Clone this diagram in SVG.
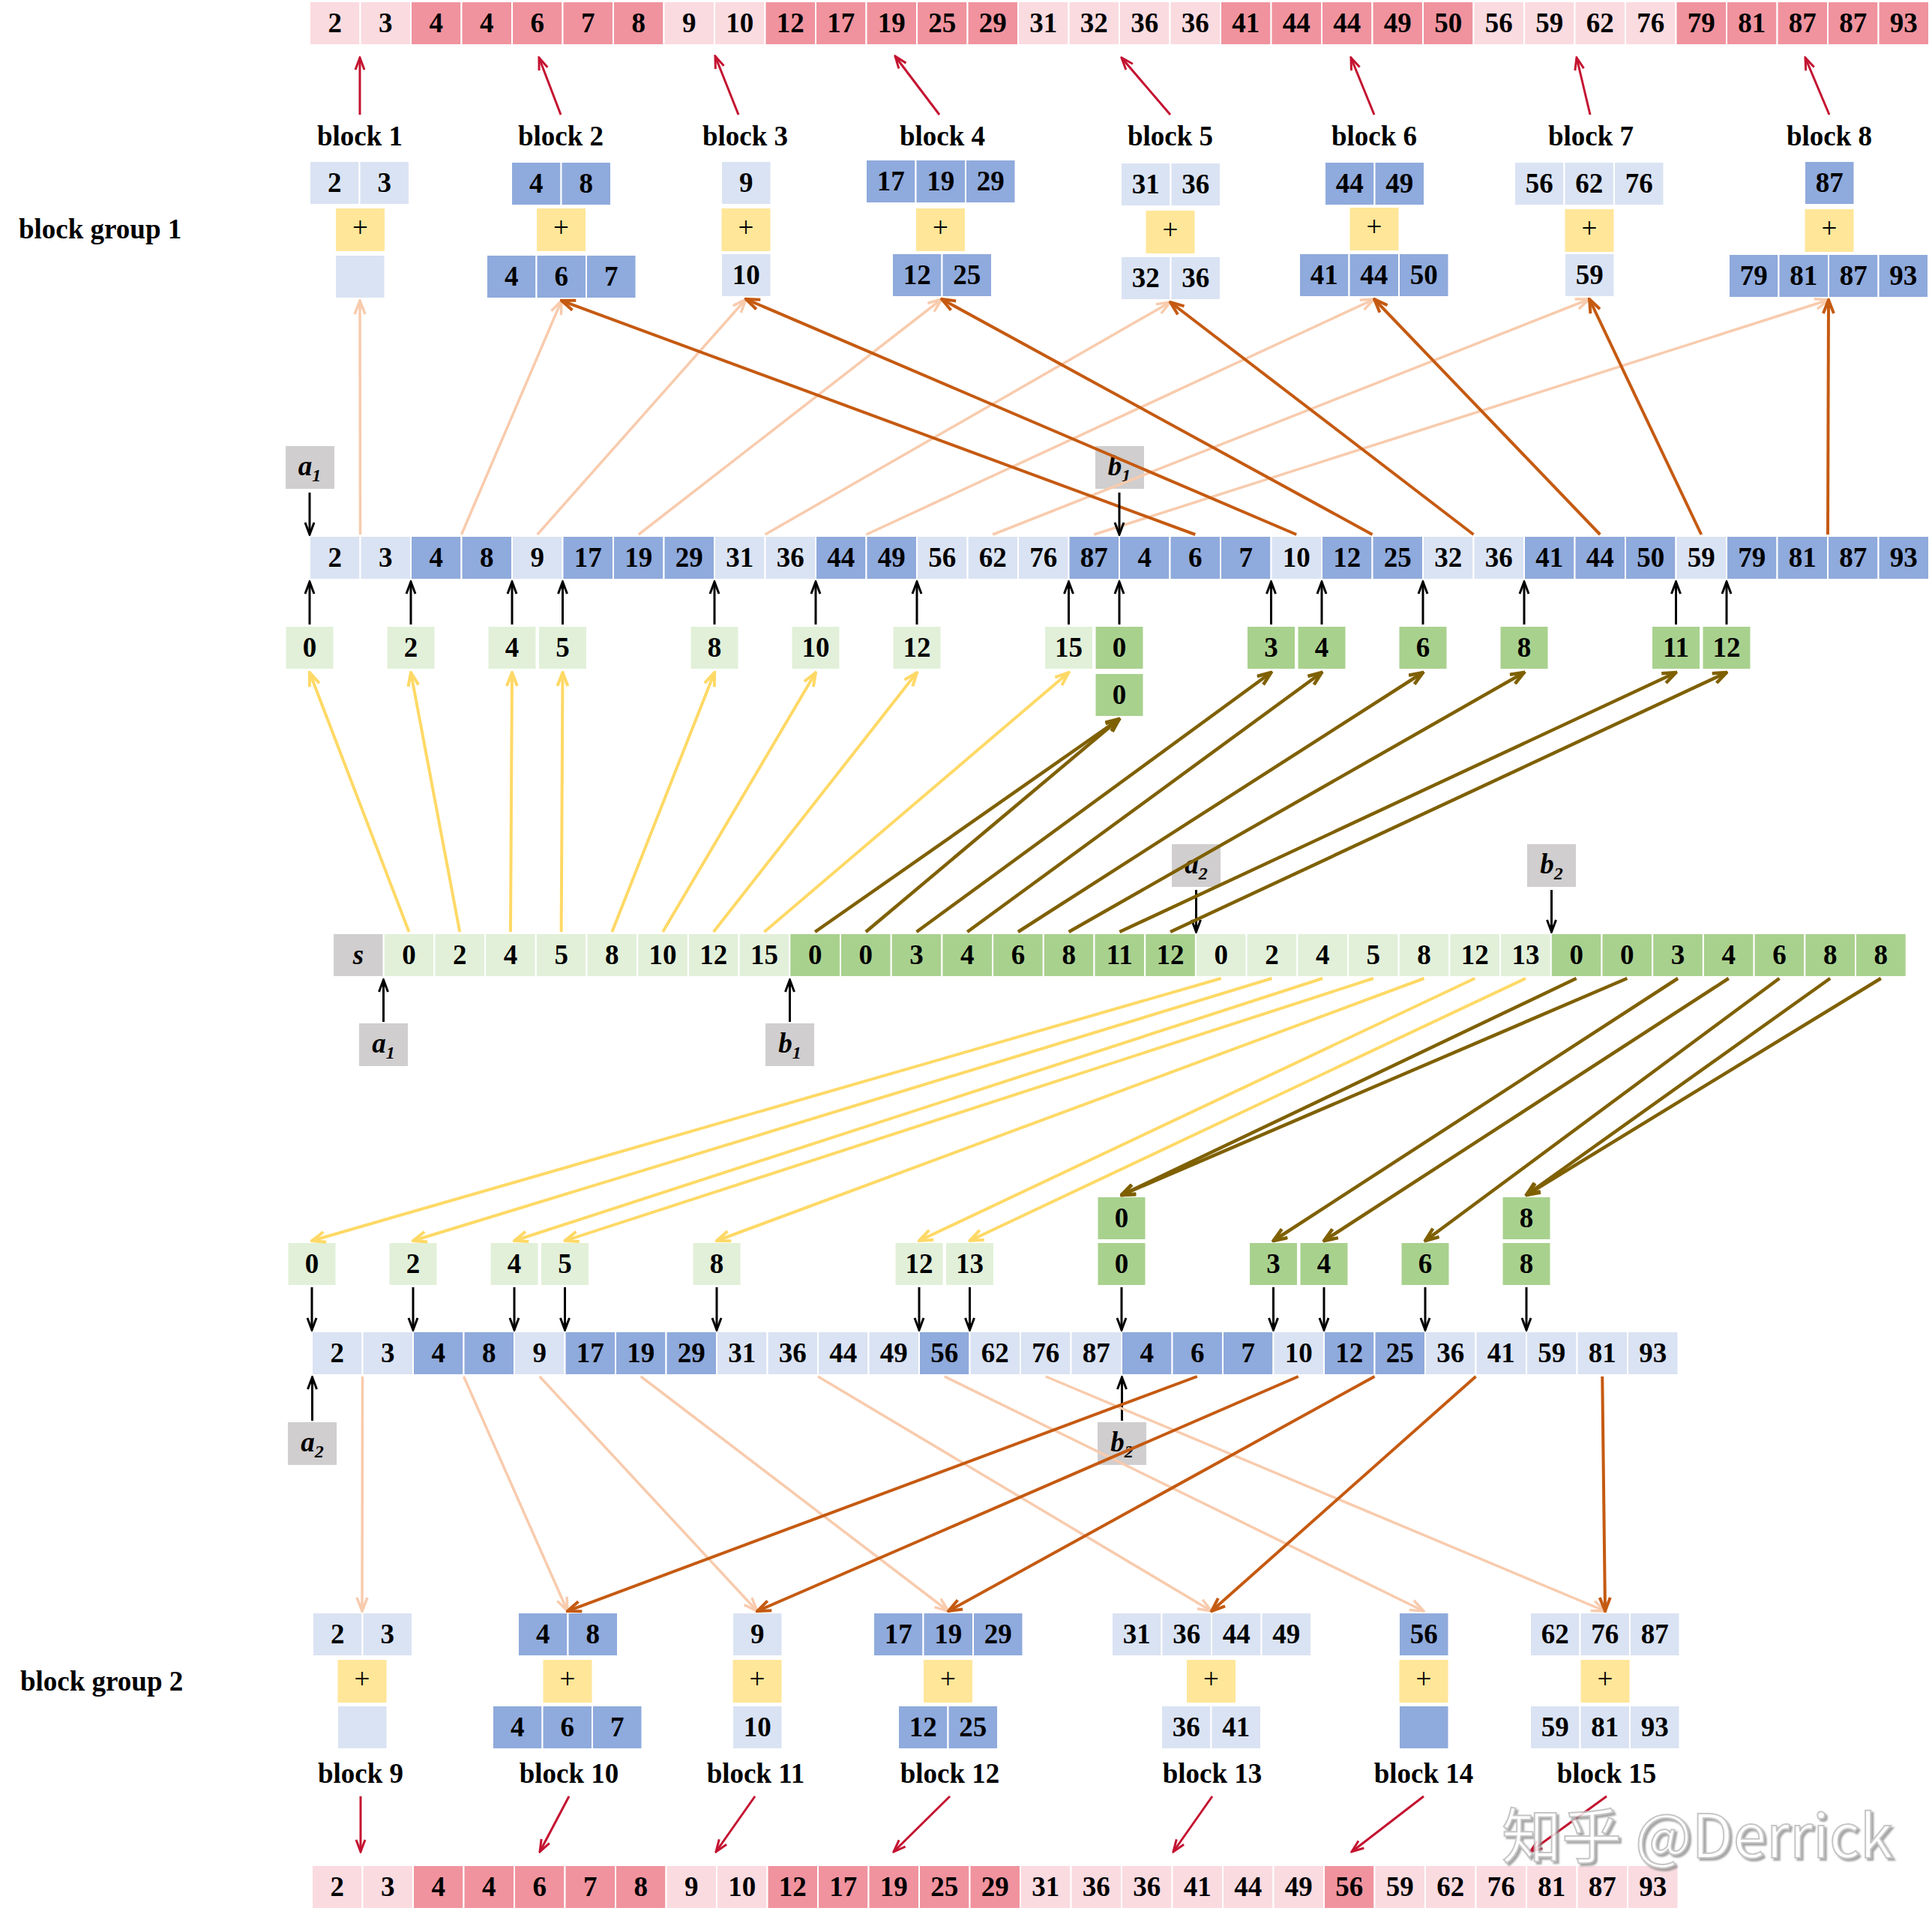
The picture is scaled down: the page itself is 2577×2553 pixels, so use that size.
<svg xmlns="http://www.w3.org/2000/svg" width="2577" height="2553" viewBox="0 0 2577 2553">
<defs>
<style>
.c{stroke:#fff;stroke-width:2}
.pl{fill:#FADBE0}.pd{fill:#F0939E}.L{fill:#DAE3F3}.D{fill:#8FAADC}.gl{fill:#E2F0D9}.gd{fill:#A9D18E}.yl{fill:#FFE699}.gr{fill:#D0CECE}
text{font-family:"Liberation Serif","Times New Roman",serif;font-weight:bold;font-size:37px;text-anchor:middle;fill:#000}
text.plus{font-weight:normal}
text.it{font-style:italic}
text.left{text-anchor:start}
.k{stroke:#000;stroke-width:3;fill:none;marker-end:url(#mk)}
.r{stroke:#C41230;stroke-width:3;fill:none;marker-end:url(#mr)}
.y{stroke:#FFD966;stroke-width:4;fill:none;marker-end:url(#my)}
.o{stroke:#7F6000;stroke-width:4.5;fill:none;marker-end:url(#mo)}
.lo{stroke:#F8CBAD;stroke-width:3.5;fill:none;marker-end:url(#mlo)}
.do{stroke:#C55A11;stroke-width:4;fill:none;marker-end:url(#mdo)}
</style>
<filter id="wm" x="-5%" y="-20%" width="110%" height="140%"><feDropShadow dx="3" dy="3" stdDeviation="1" flood-color="#8A8A8A" flood-opacity="0.9"/></filter>
<marker id="mk" viewBox="0 0 20 16" refX="18" refY="8" markerWidth="20" markerHeight="16" markerUnits="userSpaceOnUse" orient="auto"><path d="M2,2 L18,8 L2,14" fill="none" stroke="#000" stroke-width="3"/></marker>
<marker id="mr" viewBox="0 0 20 16" refX="18" refY="8" markerWidth="20" markerHeight="16" markerUnits="userSpaceOnUse" orient="auto"><path d="M2,2 L18,8 L2,14" fill="none" stroke="#C41230" stroke-width="3"/></marker>
<marker id="my" viewBox="0 0 22 18" refX="20" refY="9" markerWidth="22" markerHeight="18" markerUnits="userSpaceOnUse" orient="auto"><path d="M2,2 L20,9 L2,16" fill="none" stroke="#FFD966" stroke-width="4"/></marker>
<marker id="mo" viewBox="0 0 22 18" refX="20" refY="9" markerWidth="22" markerHeight="18" markerUnits="userSpaceOnUse" orient="auto"><path d="M2,2 L20,9 L2,16" fill="none" stroke="#7F6000" stroke-width="4.5"/></marker>
<marker id="mlo" viewBox="0 0 22 18" refX="20" refY="9" markerWidth="22" markerHeight="18" markerUnits="userSpaceOnUse" orient="auto"><path d="M2,2 L20,9 L2,16" fill="none" stroke="#F8CBAD" stroke-width="3.5"/></marker>
<marker id="mdo" viewBox="0 0 22 18" refX="20" refY="9" markerWidth="22" markerHeight="18" markerUnits="userSpaceOnUse" orient="auto"><path d="M2,2 L20,9 L2,16" fill="none" stroke="#C55A11" stroke-width="4"/></marker>
</defs>
<rect width="2577" height="2553" fill="#fff"/>

<g id="row-top" transform="translate(413,2)">
<rect class="c pl" x="0" width="67.5" height="58"/><text x="33.75" y="41">2</text>
<rect class="c pl" x="67.5" width="67.5" height="58"/><text x="101.25" y="41">3</text>
<rect class="c pd" x="135" width="67.5" height="58"/><text x="168.75" y="41">4</text>
<rect class="c pd" x="202.5" width="67.5" height="58"/><text x="236.25" y="41">4</text>
<rect class="c pd" x="270" width="67.5" height="58"/><text x="303.75" y="41">6</text>
<rect class="c pd" x="337.5" width="67.5" height="58"/><text x="371.25" y="41">7</text>
<rect class="c pd" x="405" width="67.5" height="58"/><text x="438.75" y="41">8</text>
<rect class="c pl" x="472.5" width="67.5" height="58"/><text x="506.25" y="41">9</text>
<rect class="c pl" x="540" width="67.5" height="58"/><text x="573.75" y="41">10</text>
<rect class="c pd" x="607.5" width="67.5" height="58"/><text x="641.25" y="41">12</text>
<rect class="c pd" x="675" width="67.5" height="58"/><text x="708.75" y="41">17</text>
<rect class="c pd" x="742.5" width="67.5" height="58"/><text x="776.25" y="41">19</text>
<rect class="c pd" x="810" width="67.5" height="58"/><text x="843.75" y="41">25</text>
<rect class="c pd" x="877.5" width="67.5" height="58"/><text x="911.25" y="41">29</text>
<rect class="c pl" x="945" width="67.5" height="58"/><text x="978.75" y="41">31</text>
<rect class="c pl" x="1012.5" width="67.5" height="58"/><text x="1046.25" y="41">32</text>
<rect class="c pl" x="1080" width="67.5" height="58"/><text x="1113.75" y="41">36</text>
<rect class="c pl" x="1147.5" width="67.5" height="58"/><text x="1181.25" y="41">36</text>
<rect class="c pd" x="1215" width="67.5" height="58"/><text x="1248.75" y="41">41</text>
<rect class="c pd" x="1282.5" width="67.5" height="58"/><text x="1316.25" y="41">44</text>
<rect class="c pd" x="1350" width="67.5" height="58"/><text x="1383.75" y="41">44</text>
<rect class="c pd" x="1417.5" width="67.5" height="58"/><text x="1451.25" y="41">49</text>
<rect class="c pd" x="1485" width="67.5" height="58"/><text x="1518.75" y="41">50</text>
<rect class="c pl" x="1552.5" width="67.5" height="58"/><text x="1586.25" y="41">56</text>
<rect class="c pl" x="1620" width="67.5" height="58"/><text x="1653.75" y="41">59</text>
<rect class="c pl" x="1687.5" width="67.5" height="58"/><text x="1721.25" y="41">62</text>
<rect class="c pl" x="1755" width="67.5" height="58"/><text x="1788.75" y="41">76</text>
<rect class="c pd" x="1822.5" width="67.5" height="58"/><text x="1856.25" y="41">79</text>
<rect class="c pd" x="1890" width="67.5" height="58"/><text x="1923.75" y="41">81</text>
<rect class="c pd" x="1957.5" width="67.5" height="58"/><text x="1991.25" y="41">87</text>
<rect class="c pd" x="2025" width="67.5" height="58"/><text x="2058.75" y="41">87</text>
<rect class="c pd" x="2092.5" width="67.5" height="58"/><text x="2126.25" y="41">93</text>
</g>

<g id="labels-group1">
<text x="480" y="194">block 1</text>
<text x="748" y="194">block 2</text>
<text x="994" y="194">block 3</text>
<text x="1257" y="194">block 4</text>
<text x="1561" y="194">block 5</text>
<text x="1833" y="194">block 6</text>
<text x="2122" y="194">block 7</text>
<text x="2440" y="194">block 8</text>
<text class="left" x="25" y="318">block group 1</text>
<text class="left" x="27" y="2255">block group 2</text>
</g>

<g id="block1">
<rect class="c L" x="413" y="215" width="66.5" height="58"/><text x="446.25" y="256">2</text>
<rect class="c L" x="479.5" y="215" width="66.5" height="58"/><text x="512.75" y="256">3</text>
<rect class="yl" x="448" y="278" width="65" height="57"/><text class="plus" x="480.5" y="316">+</text>
<rect class="c L" x="447" y="340" width="66.5" height="58"/>
</g>
<g id="block2">
<rect class="c D" x="682" y="216" width="66.5" height="58"/><text x="715.25" y="257">4</text>
<rect class="c D" x="748.5" y="216" width="66.5" height="58"/><text x="781.75" y="257">8</text>
<rect class="yl" x="716" y="278" width="65" height="57"/><text class="plus" x="748.5" y="316">+</text>
<rect class="c D" x="649" y="340" width="66.5" height="58"/><text x="682.25" y="381">4</text>
<rect class="c D" x="715.5" y="340" width="66.5" height="58"/><text x="748.75" y="381">6</text>
<rect class="c D" x="782" y="340" width="66.5" height="58"/><text x="815.25" y="381">7</text>
</g>
<g id="block3">
<rect class="c L" x="962" y="215" width="66.5" height="58"/><text x="995.25" y="256">9</text>
<rect class="yl" x="962.5" y="278" width="65" height="57"/><text class="plus" x="995" y="316">+</text>
<rect class="c L" x="962" y="338" width="66.5" height="58"/><text x="995.25" y="379">10</text>
</g>
<g id="block4">
<rect class="c D" x="1155" y="213" width="66.5" height="58"/><text x="1188.25" y="254">17</text>
<rect class="c D" x="1221.5" y="213" width="66.5" height="58"/><text x="1254.75" y="254">19</text>
<rect class="c D" x="1288" y="213" width="66.5" height="58"/><text x="1321.25" y="254">29</text>
<rect class="yl" x="1222" y="278" width="65" height="57"/><text class="plus" x="1254.5" y="316">+</text>
<rect class="c D" x="1190" y="338" width="66.5" height="58"/><text x="1223.25" y="379">12</text>
<rect class="c D" x="1256.5" y="338" width="66.5" height="58"/><text x="1289.75" y="379">25</text>
</g>
<g id="block5">
<rect class="c L" x="1495" y="217" width="66.5" height="58"/><text x="1528.25" y="258">31</text>
<rect class="c L" x="1561.5" y="217" width="66.5" height="58"/><text x="1594.75" y="258">36</text>
<rect class="yl" x="1528.5" y="281" width="65" height="57"/><text class="plus" x="1561" y="319">+</text>
<rect class="c L" x="1495" y="342" width="66.5" height="58"/><text x="1528.25" y="383">32</text>
<rect class="c L" x="1561.5" y="342" width="66.5" height="58"/><text x="1594.75" y="383">36</text>
</g>
<g id="block6">
<rect class="c D" x="1767" y="216" width="66.5" height="58"/><text x="1800.25" y="257">44</text>
<rect class="c D" x="1833.5" y="216" width="66.5" height="58"/><text x="1866.75" y="257">49</text>
<rect class="yl" x="1800.5" y="277" width="65" height="57"/><text class="plus" x="1833" y="315">+</text>
<rect class="c D" x="1733" y="338" width="66.5" height="58"/><text x="1766.25" y="379">41</text>
<rect class="c D" x="1799.5" y="338" width="66.5" height="58"/><text x="1832.75" y="379">44</text>
<rect class="c D" x="1866" y="338" width="66.5" height="58"/><text x="1899.25" y="379">50</text>
</g>
<g id="block7">
<rect class="c L" x="2020" y="216" width="66.5" height="58"/><text x="2053.25" y="257">56</text>
<rect class="c L" x="2086.5" y="216" width="66.5" height="58"/><text x="2119.75" y="257">62</text>
<rect class="c L" x="2153" y="216" width="66.5" height="58"/><text x="2186.25" y="257">76</text>
<rect class="yl" x="2087.5" y="279" width="65" height="57"/><text class="plus" x="2120" y="317">+</text>
<rect class="c L" x="2087" y="338" width="66.5" height="58"/><text x="2120.25" y="379">59</text>
</g>
<g id="block8">
<rect class="c D" x="2407" y="215" width="66.5" height="58"/><text x="2440.25" y="256">87</text>
<rect class="yl" x="2407.5" y="279" width="65" height="57"/><text class="plus" x="2440" y="317">+</text>
<rect class="c D" x="2306" y="339" width="66.5" height="58"/><text x="2339.25" y="380">79</text>
<rect class="c D" x="2372.5" y="339" width="66.5" height="58"/><text x="2405.75" y="380">81</text>
<rect class="c D" x="2439" y="339" width="66.5" height="58"/><text x="2472.25" y="380">87</text>
<rect class="c D" x="2505.5" y="339" width="66.5" height="58"/><text x="2538.75" y="380">93</text>
</g>

<g id="pointers1">
<rect class="gr" x="381" y="595" width="65" height="57"/><text class="it" x="413" y="634">a<tspan font-size="24" dy="8">1</tspan></text>
<rect class="gr" x="1461" y="595" width="65" height="57"/><text class="it" x="1493" y="634">b<tspan font-size="24" dy="8">1</tspan></text>
</g>

<g id="row1" transform="translate(413,715)">
<rect class="c L" x="0" width="67.5" height="58"/><text x="33.75" y="41">2</text>
<rect class="c L" x="67.5" width="67.5" height="58"/><text x="101.25" y="41">3</text>
<rect class="c D" x="135" width="67.5" height="58"/><text x="168.75" y="41">4</text>
<rect class="c D" x="202.5" width="67.5" height="58"/><text x="236.25" y="41">8</text>
<rect class="c L" x="270" width="67.5" height="58"/><text x="303.75" y="41">9</text>
<rect class="c D" x="337.5" width="67.5" height="58"/><text x="371.25" y="41">17</text>
<rect class="c D" x="405" width="67.5" height="58"/><text x="438.75" y="41">19</text>
<rect class="c D" x="472.5" width="67.5" height="58"/><text x="506.25" y="41">29</text>
<rect class="c L" x="540" width="67.5" height="58"/><text x="573.75" y="41">31</text>
<rect class="c L" x="607.5" width="67.5" height="58"/><text x="641.25" y="41">36</text>
<rect class="c D" x="675" width="67.5" height="58"/><text x="708.75" y="41">44</text>
<rect class="c D" x="742.5" width="67.5" height="58"/><text x="776.25" y="41">49</text>
<rect class="c L" x="810" width="67.5" height="58"/><text x="843.75" y="41">56</text>
<rect class="c L" x="877.5" width="67.5" height="58"/><text x="911.25" y="41">62</text>
<rect class="c L" x="945" width="67.5" height="58"/><text x="978.75" y="41">76</text>
<rect class="c D" x="1012.5" width="67.5" height="58"/><text x="1046.25" y="41">87</text>
<rect class="c D" x="1080" width="67.5" height="58"/><text x="1113.75" y="41">4</text>
<rect class="c D" x="1147.5" width="67.5" height="58"/><text x="1181.25" y="41">6</text>
<rect class="c D" x="1215" width="67.5" height="58"/><text x="1248.75" y="41">7</text>
<rect class="c L" x="1282.5" width="67.5" height="58"/><text x="1316.25" y="41">10</text>
<rect class="c D" x="1350" width="67.5" height="58"/><text x="1383.75" y="41">12</text>
<rect class="c D" x="1417.5" width="67.5" height="58"/><text x="1451.25" y="41">25</text>
<rect class="c L" x="1485" width="67.5" height="58"/><text x="1518.75" y="41">32</text>
<rect class="c L" x="1552.5" width="67.5" height="58"/><text x="1586.25" y="41">36</text>
<rect class="c D" x="1620" width="67.5" height="58"/><text x="1653.75" y="41">41</text>
<rect class="c D" x="1687.5" width="67.5" height="58"/><text x="1721.25" y="41">44</text>
<rect class="c D" x="1755" width="67.5" height="58"/><text x="1788.75" y="41">50</text>
<rect class="c L" x="1822.5" width="67.5" height="58"/><text x="1856.25" y="41">59</text>
<rect class="c D" x="1890" width="67.5" height="58"/><text x="1923.75" y="41">79</text>
<rect class="c D" x="1957.5" width="67.5" height="58"/><text x="1991.25" y="41">81</text>
<rect class="c D" x="2025" width="67.5" height="58"/><text x="2058.75" y="41">87</text>
<rect class="c D" x="2092.5" width="67.5" height="58"/><text x="2126.25" y="41">93</text>
</g>

<g id="index1">
<rect class="c gl" x="380.5" y="835" width="65" height="58"/><text x="413" y="876">0</text>
<rect class="c gl" x="515.5" y="835" width="65" height="58"/><text x="548" y="876">2</text>
<rect class="c gl" x="650.5" y="835" width="65" height="58"/><text x="683" y="876">4</text>
<rect class="c gl" x="718" y="835" width="65" height="58"/><text x="750.5" y="876">5</text>
<rect class="c gl" x="920.5" y="835" width="65" height="58"/><text x="953" y="876">8</text>
<rect class="c gl" x="1055.5" y="835" width="65" height="58"/><text x="1088" y="876">10</text>
<rect class="c gl" x="1190.5" y="835" width="65" height="58"/><text x="1223" y="876">12</text>
<rect class="c gl" x="1393" y="835" width="65" height="58"/><text x="1425.5" y="876">15</text>
<rect class="c gd" x="1460.5" y="835" width="65" height="58"/><text x="1493" y="876">0</text>
<rect class="c gd" x="1460.5" y="898" width="65" height="58"/><text x="1493" y="939">0</text>
<rect class="c gd" x="1663" y="835" width="65" height="58"/><text x="1695.5" y="876">3</text>
<rect class="c gd" x="1730.5" y="835" width="65" height="58"/><text x="1763" y="876">4</text>
<rect class="c gd" x="1865.5" y="835" width="65" height="58"/><text x="1898" y="876">6</text>
<rect class="c gd" x="2000.5" y="835" width="65" height="58"/><text x="2033" y="876">8</text>
<rect class="c gd" x="2203" y="835" width="65" height="58"/><text x="2235.5" y="876">11</text>
<rect class="c gd" x="2270.5" y="835" width="65" height="58"/><text x="2303" y="876">12</text>
</g>

<g id="pointers-s">
<rect class="gr" x="1563" y="1126" width="65" height="57"/><text class="it" x="1595.5" y="1165">a<tspan font-size="24" dy="8">2</tspan></text>
<rect class="gr" x="2037" y="1126" width="65" height="57"/><text class="it" x="2069.5" y="1165">b<tspan font-size="24" dy="8">2</tspan></text>
<rect class="gr" x="479" y="1365" width="65" height="57"/><text class="it" x="511.5" y="1404">a<tspan font-size="24" dy="8">1</tspan></text>
<rect class="gr" x="1021" y="1365" width="65" height="57"/><text class="it" x="1053.5" y="1404">b<tspan font-size="24" dy="8">1</tspan></text>
</g>

<g id="row-s" transform="translate(444,1245)">
<rect class="c gr" x="0" width="67.7" height="58"/><text class="it" x="33.85" y="41">s</text>
<rect class="c gl" x="67.7" width="67.7" height="58"/><text x="101.55" y="41">0</text>
<rect class="c gl" x="135.4" width="67.7" height="58"/><text x="169.25" y="41">2</text>
<rect class="c gl" x="203.1" width="67.7" height="58"/><text x="236.95" y="41">4</text>
<rect class="c gl" x="270.8" width="67.7" height="58"/><text x="304.65" y="41">5</text>
<rect class="c gl" x="338.5" width="67.7" height="58"/><text x="372.35" y="41">8</text>
<rect class="c gl" x="406.2" width="67.7" height="58"/><text x="440.05" y="41">10</text>
<rect class="c gl" x="473.9" width="67.7" height="58"/><text x="507.75" y="41">12</text>
<rect class="c gl" x="541.6" width="67.7" height="58"/><text x="575.45" y="41">15</text>
<rect class="c gd" x="609.3" width="67.7" height="58"/><text x="643.15" y="41">0</text>
<rect class="c gd" x="677" width="67.7" height="58"/><text x="710.85" y="41">0</text>
<rect class="c gd" x="744.7" width="67.7" height="58"/><text x="778.55" y="41">3</text>
<rect class="c gd" x="812.4" width="67.7" height="58"/><text x="846.25" y="41">4</text>
<rect class="c gd" x="880.1" width="67.7" height="58"/><text x="913.95" y="41">6</text>
<rect class="c gd" x="947.8" width="67.7" height="58"/><text x="981.65" y="41">8</text>
<rect class="c gd" x="1015.5" width="67.7" height="58"/><text x="1049.35" y="41">11</text>
<rect class="c gd" x="1083.2" width="67.7" height="58"/><text x="1117.05" y="41">12</text>
<rect class="c gl" x="1150.9" width="67.7" height="58"/><text x="1184.75" y="41">0</text>
<rect class="c gl" x="1218.6" width="67.7" height="58"/><text x="1252.45" y="41">2</text>
<rect class="c gl" x="1286.3" width="67.7" height="58"/><text x="1320.15" y="41">4</text>
<rect class="c gl" x="1354" width="67.7" height="58"/><text x="1387.85" y="41">5</text>
<rect class="c gl" x="1421.7" width="67.7" height="58"/><text x="1455.55" y="41">8</text>
<rect class="c gl" x="1489.4" width="67.7" height="58"/><text x="1523.25" y="41">12</text>
<rect class="c gl" x="1557.1" width="67.7" height="58"/><text x="1590.95" y="41">13</text>
<rect class="c gd" x="1624.8" width="67.7" height="58"/><text x="1658.65" y="41">0</text>
<rect class="c gd" x="1692.5" width="67.7" height="58"/><text x="1726.35" y="41">0</text>
<rect class="c gd" x="1760.2" width="67.7" height="58"/><text x="1794.05" y="41">3</text>
<rect class="c gd" x="1827.9" width="67.7" height="58"/><text x="1861.75" y="41">4</text>
<rect class="c gd" x="1895.6" width="67.7" height="58"/><text x="1929.45" y="41">6</text>
<rect class="c gd" x="1963.3" width="67.7" height="58"/><text x="1997.15" y="41">8</text>
<rect class="c gd" x="2031" width="67.7" height="58"/><text x="2064.85" y="41">8</text>
</g>

<g id="index2">
<rect class="c gl" x="383.5" y="1657" width="65" height="58"/><text x="416" y="1698">0</text>
<rect class="c gl" x="518.5" y="1657" width="65" height="58"/><text x="551" y="1698">2</text>
<rect class="c gl" x="653.5" y="1657" width="65" height="58"/><text x="686" y="1698">4</text>
<rect class="c gl" x="721" y="1657" width="65" height="58"/><text x="753.5" y="1698">5</text>
<rect class="c gl" x="923.5" y="1657" width="65" height="58"/><text x="956" y="1698">8</text>
<rect class="c gl" x="1193.5" y="1657" width="65" height="58"/><text x="1226" y="1698">12</text>
<rect class="c gl" x="1261" y="1657" width="65" height="58"/><text x="1293.5" y="1698">13</text>
<rect class="c gd" x="1463.5" y="1596" width="65" height="58"/><text x="1496" y="1637">0</text>
<rect class="c gd" x="1463.5" y="1657" width="65" height="58"/><text x="1496" y="1698">0</text>
<rect class="c gd" x="1666" y="1657" width="65" height="58"/><text x="1698.5" y="1698">3</text>
<rect class="c gd" x="1733.5" y="1657" width="65" height="58"/><text x="1766" y="1698">4</text>
<rect class="c gd" x="1868.5" y="1657" width="65" height="58"/><text x="1901" y="1698">6</text>
<rect class="c gd" x="2003.5" y="1596" width="65" height="58"/><text x="2036" y="1637">8</text>
<rect class="c gd" x="2003.5" y="1657" width="65" height="58"/><text x="2036" y="1698">8</text>
</g>

<g id="row2" transform="translate(416,1776)">
<rect class="c L" x="0" width="67.5" height="58"/><text x="33.75" y="41">2</text>
<rect class="c L" x="67.5" width="67.5" height="58"/><text x="101.25" y="41">3</text>
<rect class="c D" x="135" width="67.5" height="58"/><text x="168.75" y="41">4</text>
<rect class="c D" x="202.5" width="67.5" height="58"/><text x="236.25" y="41">8</text>
<rect class="c L" x="270" width="67.5" height="58"/><text x="303.75" y="41">9</text>
<rect class="c D" x="337.5" width="67.5" height="58"/><text x="371.25" y="41">17</text>
<rect class="c D" x="405" width="67.5" height="58"/><text x="438.75" y="41">19</text>
<rect class="c D" x="472.5" width="67.5" height="58"/><text x="506.25" y="41">29</text>
<rect class="c L" x="540" width="67.5" height="58"/><text x="573.75" y="41">31</text>
<rect class="c L" x="607.5" width="67.5" height="58"/><text x="641.25" y="41">36</text>
<rect class="c L" x="675" width="67.5" height="58"/><text x="708.75" y="41">44</text>
<rect class="c L" x="742.5" width="67.5" height="58"/><text x="776.25" y="41">49</text>
<rect class="c D" x="810" width="67.5" height="58"/><text x="843.75" y="41">56</text>
<rect class="c L" x="877.5" width="67.5" height="58"/><text x="911.25" y="41">62</text>
<rect class="c L" x="945" width="67.5" height="58"/><text x="978.75" y="41">76</text>
<rect class="c L" x="1012.5" width="67.5" height="58"/><text x="1046.25" y="41">87</text>
<rect class="c D" x="1080" width="67.5" height="58"/><text x="1113.75" y="41">4</text>
<rect class="c D" x="1147.5" width="67.5" height="58"/><text x="1181.25" y="41">6</text>
<rect class="c D" x="1215" width="67.5" height="58"/><text x="1248.75" y="41">7</text>
<rect class="c L" x="1282.5" width="67.5" height="58"/><text x="1316.25" y="41">10</text>
<rect class="c D" x="1350" width="67.5" height="58"/><text x="1383.75" y="41">12</text>
<rect class="c D" x="1417.5" width="67.5" height="58"/><text x="1451.25" y="41">25</text>
<rect class="c L" x="1485" width="67.5" height="58"/><text x="1518.75" y="41">36</text>
<rect class="c L" x="1552.5" width="67.5" height="58"/><text x="1586.25" y="41">41</text>
<rect class="c L" x="1620" width="67.5" height="58"/><text x="1653.75" y="41">59</text>
<rect class="c L" x="1687.5" width="67.5" height="58"/><text x="1721.25" y="41">81</text>
<rect class="c L" x="1755" width="67.5" height="58"/><text x="1788.75" y="41">93</text>
</g>

<g id="pointers2">
<rect class="gr" x="384" y="1897" width="65" height="57"/><text class="it" x="416.5" y="1936">a<tspan font-size="24" dy="8">2</tspan></text>
<rect class="gr" x="1464" y="1897" width="65" height="57"/><text class="it" x="1496.5" y="1936">b<tspan font-size="24" dy="8">2</tspan></text>
</g>

<g id="block9">
<rect class="c L" x="417" y="2151" width="66.5" height="58"/><text x="450.25" y="2192">2</text>
<rect class="c L" x="483.5" y="2151" width="66.5" height="58"/><text x="516.75" y="2192">3</text>
<rect class="yl" x="450.5" y="2214" width="65" height="57"/><text class="plus" x="483" y="2252">+</text>
<rect class="c L" x="450" y="2275" width="66.5" height="58"/>
</g>
<g id="block10">
<rect class="c D" x="691" y="2151" width="66.5" height="58"/><text x="724.25" y="2192">4</text>
<rect class="c D" x="757.5" y="2151" width="66.5" height="58"/><text x="790.75" y="2192">8</text>
<rect class="yl" x="724.5" y="2214" width="65" height="57"/><text class="plus" x="757" y="2252">+</text>
<rect class="c D" x="657" y="2275" width="66.5" height="58"/><text x="690.25" y="2316">4</text>
<rect class="c D" x="723.5" y="2275" width="66.5" height="58"/><text x="756.75" y="2316">6</text>
<rect class="c D" x="790" y="2275" width="66.5" height="58"/><text x="823.25" y="2316">7</text>
</g>
<g id="block11">
<rect class="c L" x="977" y="2151" width="66.5" height="58"/><text x="1010.25" y="2192">9</text>
<rect class="yl" x="977.5" y="2214" width="65" height="57"/><text class="plus" x="1010" y="2252">+</text>
<rect class="c L" x="977" y="2275" width="66.5" height="58"/><text x="1010.25" y="2316">10</text>
</g>
<g id="block12">
<rect class="c D" x="1165" y="2151" width="66.5" height="58"/><text x="1198.25" y="2192">17</text>
<rect class="c D" x="1231.5" y="2151" width="66.5" height="58"/><text x="1264.75" y="2192">19</text>
<rect class="c D" x="1298" y="2151" width="66.5" height="58"/><text x="1331.25" y="2192">29</text>
<rect class="yl" x="1232" y="2214" width="65" height="57"/><text class="plus" x="1264.5" y="2252">+</text>
<rect class="c D" x="1198" y="2275" width="66.5" height="58"/><text x="1231.25" y="2316">12</text>
<rect class="c D" x="1264.5" y="2275" width="66.5" height="58"/><text x="1297.75" y="2316">25</text>
</g>
<g id="block13">
<rect class="c L" x="1483" y="2151" width="66.5" height="58"/><text x="1516.25" y="2192">31</text>
<rect class="c L" x="1549.5" y="2151" width="66.5" height="58"/><text x="1582.75" y="2192">36</text>
<rect class="c L" x="1616" y="2151" width="66.5" height="58"/><text x="1649.25" y="2192">44</text>
<rect class="c L" x="1682.5" y="2151" width="66.5" height="58"/><text x="1715.75" y="2192">49</text>
<rect class="yl" x="1583" y="2214" width="65" height="57"/><text class="plus" x="1615.5" y="2252">+</text>
<rect class="c L" x="1549" y="2275" width="66.5" height="58"/><text x="1582.25" y="2316">36</text>
<rect class="c L" x="1615.5" y="2275" width="66.5" height="58"/><text x="1648.75" y="2316">41</text>
</g>
<g id="block14">
<rect class="c D" x="1866" y="2151" width="66.5" height="58"/><text x="1899.25" y="2192">56</text>
<rect class="yl" x="1866.5" y="2214" width="65" height="57"/><text class="plus" x="1899" y="2252">+</text>
<rect class="c D" x="1866" y="2275" width="66.5" height="58"/>
</g>
<g id="block15">
<rect class="c L" x="2041" y="2151" width="66.5" height="58"/><text x="2074.25" y="2192">62</text>
<rect class="c L" x="2107.5" y="2151" width="66.5" height="58"/><text x="2140.75" y="2192">76</text>
<rect class="c L" x="2174" y="2151" width="66.5" height="58"/><text x="2207.25" y="2192">87</text>
<rect class="yl" x="2108.5" y="2214" width="65" height="57"/><text class="plus" x="2141" y="2252">+</text>
<rect class="c L" x="2041" y="2275" width="66.5" height="58"/><text x="2074.25" y="2316">59</text>
<rect class="c L" x="2107.5" y="2275" width="66.5" height="58"/><text x="2140.75" y="2316">81</text>
<rect class="c L" x="2174" y="2275" width="66.5" height="58"/><text x="2207.25" y="2316">93</text>
</g>

<g id="labels-group2">
<text x="481" y="2378">block 9</text>
<text x="759" y="2378">block 10</text>
<text x="1008" y="2378">block 11</text>
<text x="1267" y="2378">block 12</text>
<text x="1617" y="2378">block 13</text>
<text x="1899" y="2378">block 14</text>
<text x="2143" y="2378">block 15</text>
</g>

<g id="row-bottom" transform="translate(416,2488)">
<rect class="c pl" x="0" width="67.5" height="58"/><text x="33.75" y="41">2</text>
<rect class="c pl" x="67.5" width="67.5" height="58"/><text x="101.25" y="41">3</text>
<rect class="c pd" x="135" width="67.5" height="58"/><text x="168.75" y="41">4</text>
<rect class="c pd" x="202.5" width="67.5" height="58"/><text x="236.25" y="41">4</text>
<rect class="c pd" x="270" width="67.5" height="58"/><text x="303.75" y="41">6</text>
<rect class="c pd" x="337.5" width="67.5" height="58"/><text x="371.25" y="41">7</text>
<rect class="c pd" x="405" width="67.5" height="58"/><text x="438.75" y="41">8</text>
<rect class="c pl" x="472.5" width="67.5" height="58"/><text x="506.25" y="41">9</text>
<rect class="c pl" x="540" width="67.5" height="58"/><text x="573.75" y="41">10</text>
<rect class="c pd" x="607.5" width="67.5" height="58"/><text x="641.25" y="41">12</text>
<rect class="c pd" x="675" width="67.5" height="58"/><text x="708.75" y="41">17</text>
<rect class="c pd" x="742.5" width="67.5" height="58"/><text x="776.25" y="41">19</text>
<rect class="c pd" x="810" width="67.5" height="58"/><text x="843.75" y="41">25</text>
<rect class="c pd" x="877.5" width="67.5" height="58"/><text x="911.25" y="41">29</text>
<rect class="c pl" x="945" width="67.5" height="58"/><text x="978.75" y="41">31</text>
<rect class="c pl" x="1012.5" width="67.5" height="58"/><text x="1046.25" y="41">36</text>
<rect class="c pl" x="1080" width="67.5" height="58"/><text x="1113.75" y="41">36</text>
<rect class="c pl" x="1147.5" width="67.5" height="58"/><text x="1181.25" y="41">41</text>
<rect class="c pl" x="1215" width="67.5" height="58"/><text x="1248.75" y="41">44</text>
<rect class="c pl" x="1282.5" width="67.5" height="58"/><text x="1316.25" y="41">49</text>
<rect class="c pd" x="1350" width="67.5" height="58"/><text x="1383.75" y="41">56</text>
<rect class="c pl" x="1417.5" width="67.5" height="58"/><text x="1451.25" y="41">59</text>
<rect class="c pl" x="1485" width="67.5" height="58"/><text x="1518.75" y="41">62</text>
<rect class="c pl" x="1552.5" width="67.5" height="58"/><text x="1586.25" y="41">76</text>
<rect class="c pl" x="1620" width="67.5" height="58"/><text x="1653.75" y="41">81</text>
<rect class="c pl" x="1687.5" width="67.5" height="58"/><text x="1721.25" y="41">87</text>
<rect class="c pl" x="1755" width="67.5" height="58"/><text x="1788.75" y="41">93</text>
</g>

<g id="connectors">
<line class="r" x1="480" y1="153" x2="480" y2="77"/>
<line class="r" x1="748" y1="153" x2="719" y2="77"/>
<line class="r" x1="985" y1="153" x2="954" y2="75"/>
<line class="r" x1="1253" y1="153" x2="1194" y2="75"/>
<line class="r" x1="1561" y1="153" x2="1496" y2="77"/>
<line class="r" x1="1833" y1="153" x2="1802" y2="77"/>
<line class="r" x1="2121" y1="153" x2="2103" y2="77"/>
<line class="r" x1="2440" y1="153" x2="2408" y2="77"/>
<line class="r" x1="481" y1="2396" x2="481" y2="2470"/>
<line class="r" x1="759" y1="2396" x2="720" y2="2470"/>
<line class="r" x1="1007" y1="2396" x2="955" y2="2470"/>
<line class="r" x1="1267" y1="2396" x2="1192" y2="2470"/>
<line class="r" x1="1617" y1="2396" x2="1565" y2="2470"/>
<line class="r" x1="1899" y1="2396" x2="1803" y2="2470"/>
<line class="r" x1="2143" y1="2396" x2="2041" y2="2470"/>
<line class="lo" x1="480.5" y1="713" x2="480" y2="401"/>
<line class="lo" x1="615.5" y1="713" x2="749" y2="401"/>
<line class="lo" x1="716.75" y1="713" x2="995" y2="399"/>
<line class="lo" x1="851.75" y1="713" x2="1256" y2="399"/>
<line class="lo" x1="1020.5" y1="713" x2="1561" y2="403"/>
<line class="lo" x1="1155.5" y1="713" x2="1833" y2="399"/>
<line class="lo" x1="1324.25" y1="713" x2="2120" y2="399"/>
<line class="lo" x1="1459.25" y1="713" x2="2439" y2="400"/>
<line class="do" x1="1594.25" y1="713" x2="749" y2="401"/>
<line class="do" x1="1729.25" y1="713" x2="995" y2="399"/>
<line class="do" x1="1830.5" y1="713" x2="1256" y2="399"/>
<line class="do" x1="1965.5" y1="713" x2="1561" y2="403"/>
<line class="do" x1="2134.25" y1="713" x2="1833" y2="399"/>
<line class="do" x1="2269.25" y1="713" x2="2120" y2="399"/>
<line class="do" x1="2438" y1="713" x2="2439" y2="400"/>
<line class="k" x1="413" y1="657" x2="413" y2="713"/>
<line class="k" x1="1493" y1="657" x2="1493" y2="713"/>
<line class="k" x1="511.5" y1="1363" x2="511.5" y2="1307"/>
<line class="k" x1="1053.5" y1="1363" x2="1053.5" y2="1307"/>
<line class="k" x1="1595.5" y1="1187" x2="1595.5" y2="1243"/>
<line class="k" x1="2069.5" y1="1187" x2="2069.5" y2="1243"/>
<line class="k" x1="416.5" y1="1895" x2="416.5" y2="1837"/>
<line class="k" x1="1496.5" y1="1895" x2="1496.5" y2="1837"/>
<line class="k" x1="413" y1="833" x2="413" y2="776"/>
<line class="k" x1="548" y1="833" x2="548" y2="776"/>
<line class="k" x1="683" y1="833" x2="683" y2="776"/>
<line class="k" x1="750.5" y1="833" x2="750.5" y2="776"/>
<line class="k" x1="953" y1="833" x2="953" y2="776"/>
<line class="k" x1="1088" y1="833" x2="1088" y2="776"/>
<line class="k" x1="1223" y1="833" x2="1223" y2="776"/>
<line class="k" x1="1425.5" y1="833" x2="1425.5" y2="776"/>
<line class="k" x1="1493" y1="833" x2="1493" y2="776"/>
<line class="k" x1="1695.5" y1="833" x2="1695.5" y2="776"/>
<line class="k" x1="1763" y1="833" x2="1763" y2="776"/>
<line class="k" x1="1898" y1="833" x2="1898" y2="776"/>
<line class="k" x1="2033" y1="833" x2="2033" y2="776"/>
<line class="k" x1="2235.5" y1="833" x2="2235.5" y2="776"/>
<line class="k" x1="2303" y1="833" x2="2303" y2="776"/>
<line class="k" x1="416" y1="1717" x2="416" y2="1774"/>
<line class="k" x1="551" y1="1717" x2="551" y2="1774"/>
<line class="k" x1="686" y1="1717" x2="686" y2="1774"/>
<line class="k" x1="753.5" y1="1717" x2="753.5" y2="1774"/>
<line class="k" x1="956" y1="1717" x2="956" y2="1774"/>
<line class="k" x1="1226" y1="1717" x2="1226" y2="1774"/>
<line class="k" x1="1293.5" y1="1717" x2="1293.5" y2="1774"/>
<line class="k" x1="1496" y1="1717" x2="1496" y2="1774"/>
<line class="k" x1="1698.5" y1="1717" x2="1698.5" y2="1774"/>
<line class="k" x1="1766" y1="1717" x2="1766" y2="1774"/>
<line class="k" x1="1901" y1="1717" x2="1901" y2="1774"/>
<line class="k" x1="2036" y1="1717" x2="2036" y2="1774"/>
<line class="y" x1="545.55" y1="1243" x2="413" y2="897"/>
<line class="y" x1="613.25" y1="1243" x2="548" y2="897"/>
<line class="y" x1="680.95" y1="1243" x2="683" y2="897"/>
<line class="y" x1="748.65" y1="1243" x2="750.5" y2="897"/>
<line class="y" x1="816.35" y1="1243" x2="953" y2="897"/>
<line class="y" x1="884.05" y1="1243" x2="1088" y2="897"/>
<line class="y" x1="951.75" y1="1243" x2="1223" y2="897"/>
<line class="y" x1="1019.45" y1="1243" x2="1425.5" y2="897"/>
<line class="o" x1="1087.15" y1="1243" x2="1493" y2="959"/>
<line class="o" x1="1154.85" y1="1243" x2="1493" y2="959"/>
<line class="o" x1="1222.55" y1="1243" x2="1695.5" y2="897"/>
<line class="o" x1="1290.25" y1="1243" x2="1763" y2="897"/>
<line class="o" x1="1357.95" y1="1243" x2="1898" y2="897"/>
<line class="o" x1="1425.65" y1="1243" x2="2033" y2="897"/>
<line class="o" x1="1493.35" y1="1243" x2="2235.5" y2="897"/>
<line class="o" x1="1561.05" y1="1243" x2="2303" y2="897"/>
<line class="y" x1="1628.75" y1="1305" x2="416" y2="1655"/>
<line class="y" x1="1696.45" y1="1305" x2="551" y2="1655"/>
<line class="y" x1="1764.15" y1="1305" x2="686" y2="1655"/>
<line class="y" x1="1831.85" y1="1305" x2="753.5" y2="1655"/>
<line class="y" x1="1899.55" y1="1305" x2="956" y2="1655"/>
<line class="y" x1="1967.25" y1="1305" x2="1226" y2="1655"/>
<line class="y" x1="2034.95" y1="1305" x2="1293.5" y2="1655"/>
<line class="o" x1="2102.65" y1="1305" x2="1496" y2="1594"/>
<line class="o" x1="2170.35" y1="1305" x2="1496" y2="1594"/>
<line class="o" x1="2238.05" y1="1305" x2="1698.5" y2="1655"/>
<line class="o" x1="2305.75" y1="1305" x2="1766" y2="1655"/>
<line class="o" x1="2373.45" y1="1305" x2="1901" y2="1655"/>
<line class="o" x1="2441.15" y1="1305" x2="2036" y2="1594"/>
<line class="o" x1="2508.85" y1="1305" x2="2036" y2="1594"/>
<line class="lo" x1="483.5" y1="1836" x2="483" y2="2149"/>
<line class="lo" x1="618.5" y1="1836" x2="757" y2="2149"/>
<line class="lo" x1="719.75" y1="1836" x2="1010" y2="2149"/>
<line class="lo" x1="854.75" y1="1836" x2="1265" y2="2149"/>
<line class="lo" x1="1091" y1="1836" x2="1616" y2="2149"/>
<line class="lo" x1="1259.75" y1="1836" x2="1899" y2="2149"/>
<line class="lo" x1="1394.75" y1="1836" x2="2141" y2="2149"/>
<line class="do" x1="1596.75" y1="1836" x2="757" y2="2149"/>
<line class="do" x1="1731.75" y1="1836" x2="1010" y2="2149"/>
<line class="do" x1="1833.5" y1="1836" x2="1265" y2="2149"/>
<line class="do" x1="1968.5" y1="1836" x2="1616" y2="2149"/>
<line class="do" x1="2137.25" y1="1836" x2="2141" y2="2149"/>
</g>

<g id="watermark" opacity="0.85">
<text class="left" x="2003" y="2478" filter="url(#wm)" style="font-family:'Noto Sans CJK SC','Noto Sans',sans-serif;font-weight:normal;font-size:80px;fill:#FFFFFF;stroke:#BDBDBD;stroke-width:2">知乎 @Derrick</text>
</g>
</svg>
